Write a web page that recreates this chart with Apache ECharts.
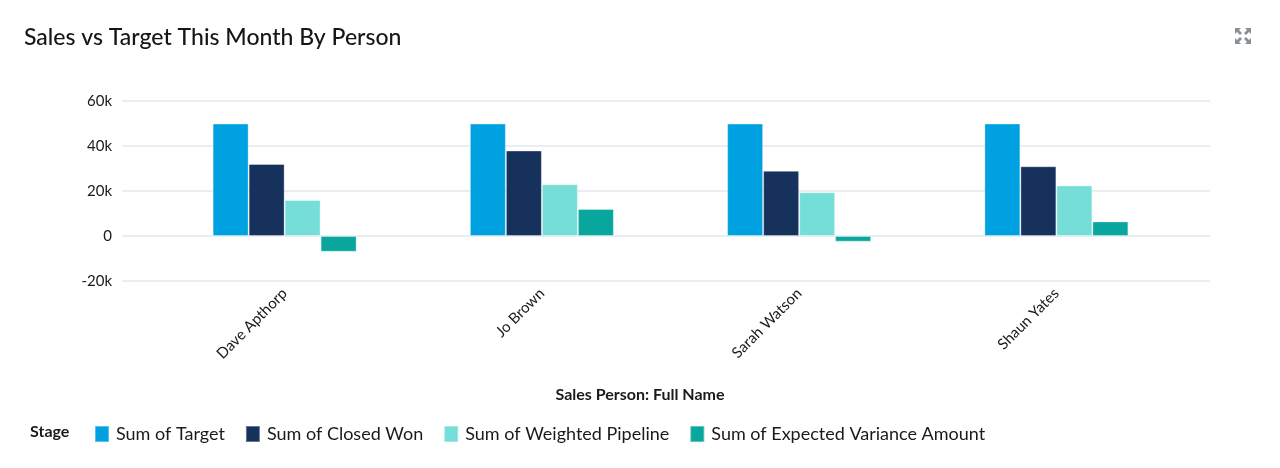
<!DOCTYPE html>
<html>
<head>
<meta charset="utf-8">
<script src="https://cdn.jsdelivr.net/npm/echarts@6/dist/echarts.min.js"></script>
<style>
html,body{margin:0;padding:0;background:#fff;}
#c{width:1280px;height:468px;}
</style>
</head>
<body>
<div id="c"></div>
<script>
const categories = ['Dave Apthorp', 'Jo Brown', 'Sarah Watson', 'Shaun Yates'];
const seriesNames = ['Sum of Target', 'Sum of Closed Won', 'Sum of Weighted Pipeline', 'Sum of Expected Variance Amount'];
const target = [50000, 50000, 50000, 50000];
const closedWon = [32000, 38000, 29000, 31000];
const weightedPipeline = [16000, 23000, 19500, 22500];
const expectedVariance = [-7000, 12000, -2500, 6500];
const yTicks = [-20000, 0, 20000, 40000, 60000];

const colors = ['#00a1e0', '#16325c', '#76ded9', '#08a69c'];
const values = [target, closedWon, weightedPipeline, expectedVariance];
const FONT = 'Lato, "Noto Sans", sans-serif';

const chart = echarts.init(document.getElementById('c'));
const yMin = yTicks[0], yMax = yTicks[yTicks.length - 1], yInt = yTicks[1] - yTicks[0];

chart.setOption({
  animation: false,
  textStyle: { fontFamily: FONT },
  color: colors,
  title: {
    text: 'Sales vs Target This Month By Person',
    left: 19, top: 21,
    textStyle: { fontFamily: FONT, fontSize: 23, fontWeight: 500, color: '#16161a' }
  },
  legend: {
    left: 89, top: 420,
    icon: 'rect', itemWidth: 14, itemHeight: 16, itemGap: 20,
    textStyle: { fontFamily: FONT, fontSize: 18, color: '#1a1a1a', padding: [0, 0, 0, 2] },
    data: seriesNames
  },
  grid: [
    { left: 122, right: 70, top: 101, height: 180 },
    { left: 156, width: 1029, top: 101, height: 180 }
  ],
  xAxis: [
    { gridIndex: 0, type: 'category', data: categories, show: false },
    {
      gridIndex: 1, type: 'category', data: categories,
      axisLine: { show: false }, axisTick: { show: false },
      axisLabel: { rotate: 45, fontFamily: FONT, fontSize: 15, color: '#1a1a1a', margin: 10 }
    }
  ],
  yAxis: [
    {
      gridIndex: 0, type: 'value', min: yMin, max: yMax, interval: yInt,
      axisLine: { show: false }, axisTick: { show: false },
      splitLine: { lineStyle: { color: '#e1e8ec', width: 1.5 } },
      axisLabel: {
        fontFamily: FONT, fontSize: 15, color: '#1a1a1a', margin: 10,
        formatter: v => v === 0 ? '0' : (v / 1000) + 'k'
      }
    },
    { gridIndex: 1, type: 'value', min: yMin, max: yMax, interval: yInt, show: false }
  ],
  series: seriesNames.map((n, i) => ({
    name: n, type: 'bar', xAxisIndex: 1, yAxisIndex: 1,
    data: values[i], barWidth: 36, barGap: '0%',
    itemStyle: { color: colors[i], borderColor: 'rgba(255,255,255,0.35)', borderWidth: 1 }
  })),
  graphic: [
    {
      type: 'text', x: 640, y: 395,
      style: { text: 'Sales Person: Full Name', fontFamily: FONT, fontSize: 16, fontWeight: 'bold', fill: '#1a1a1a', align: 'center', verticalAlign: 'middle' }
    },
    {
      type: 'text', x: 30, y: 432,
      style: { text: 'Stage', fontFamily: FONT, fontSize: 16, fontWeight: 'bold', fill: '#1a1a1a', verticalAlign: 'middle' }
    },
    {
      type: 'group', left: 1235, top: 28,
      children: [
        { type: 'polygon', shape: { points: [[0,0],[6,0],[4,2],[7,5],[5,7],[2,4],[0,6]] }, style: { fill: '#8a8f94' } },
        { type: 'polygon', shape: { points: [[16,0],[10,0],[12,2],[9,5],[11,7],[14,4],[16,6]] }, style: { fill: '#8a8f94' } },
        { type: 'polygon', shape: { points: [[0,16],[6,16],[4,14],[7,11],[5,9],[2,12],[0,10]] }, style: { fill: '#8a8f94' } },
        { type: 'polygon', shape: { points: [[16,16],[10,16],[12,14],[9,11],[11,9],[14,12],[16,10]] }, style: { fill: '#8a8f94' } }
      ]
    }
  ]
});
</script>
</body>
</html>
